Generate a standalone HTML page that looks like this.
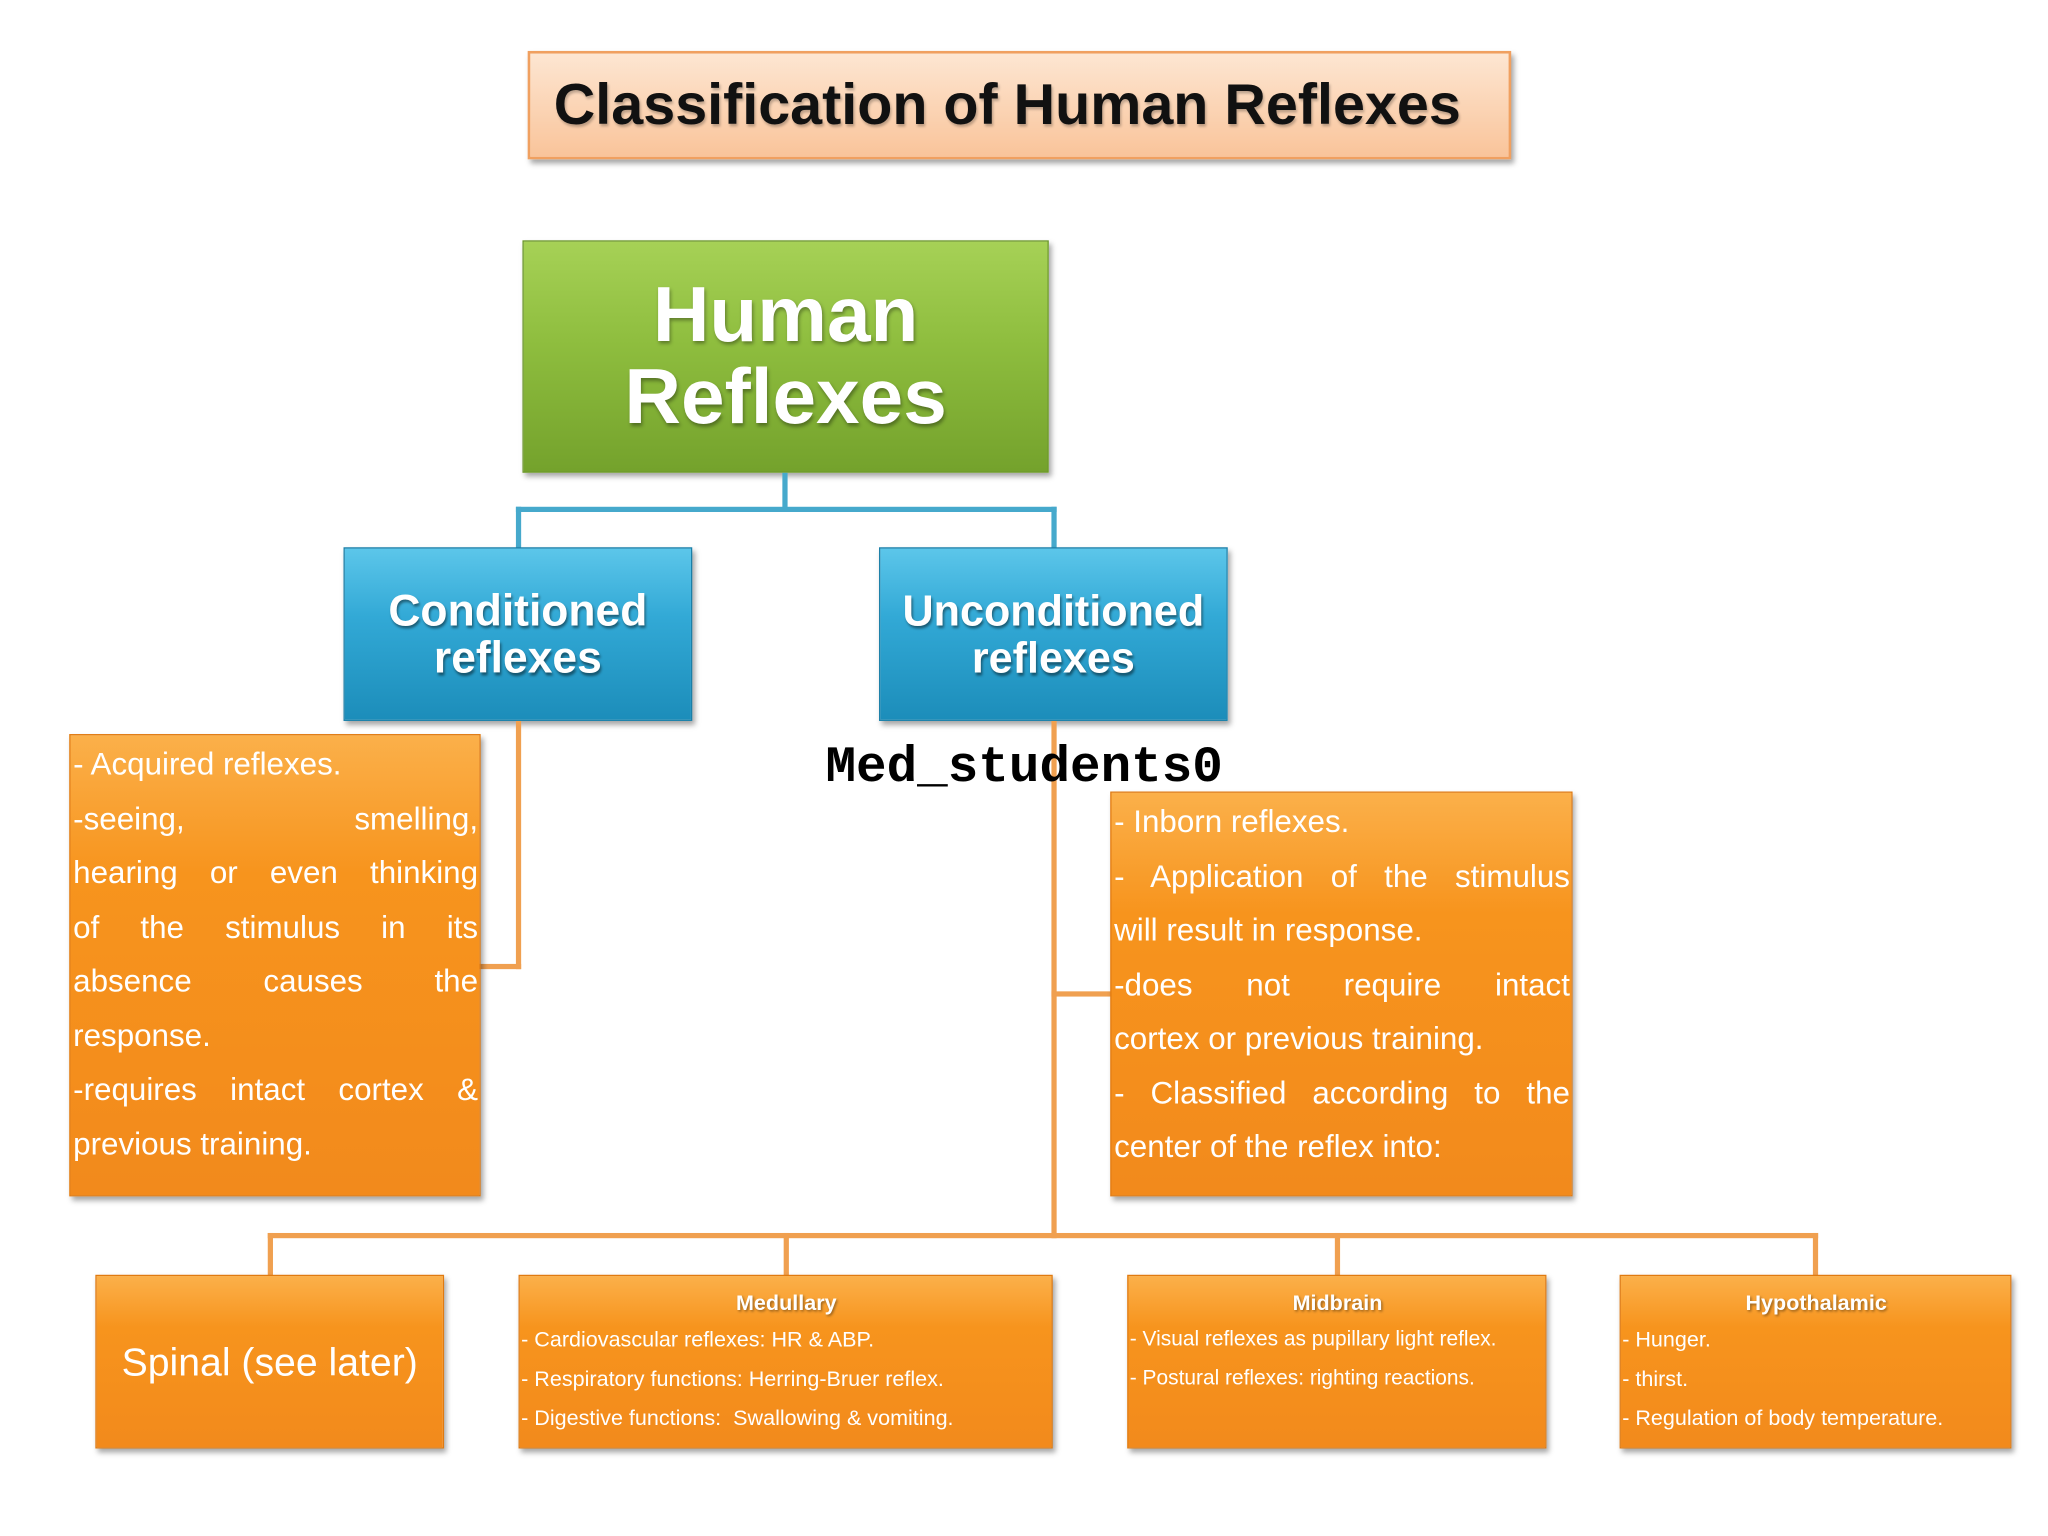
<!DOCTYPE html>
<html><head><meta charset="utf-8"><style>
html,body{margin:0;padding:0;background:#fff;}
body{width:2048px;height:1536px;overflow:hidden;position:relative;}
#s{position:absolute;left:0;top:0;width:1568px;height:1176px;transform:scale(1.30612);transform-origin:0 0;font-family:"Liberation Sans",sans-serif;}
.b{position:absolute;box-sizing:border-box;box-shadow:2px 3px 4px rgba(0,0,0,0.35);}
.or{background:linear-gradient(180deg,#fbb04a 0%,#f7941d 30%,#f28a1c 100%);border:1px solid #e07a10;color:#fff;}
.bl{background:linear-gradient(180deg,#5cc6ea 0%,#32a9d6 40%,#1c8dba 100%);border:1px solid #1a7fa8;color:#fff;font-weight:bold;text-align:center;text-shadow:1px 2px 2px rgba(0,0,0,0.45);}
.l{position:absolute;background:#f0a050;}
.lb{position:absolute;background:#46a9cc;}
.j{text-align:justify;text-align-last:justify;white-space:nowrap;}
.p{font-size:24px;line-height:41.5px;}
.sm{font-size:16.5px;line-height:30px;white-space:nowrap;}
.h{font-weight:bold;text-align:center;font-size:16.5px;line-height:26px;text-shadow:1px 1px 2px rgba(0,0,0,.4);}
</style></head><body><div id="s">

<div class="b" style="left:404px;top:39px;width:753px;height:83px;background:linear-gradient(180deg,#fde6d2,#f9c49a);border:2px solid #f0a060;font-weight:bold;font-size:44px;line-height:80px;padding-left:18px;color:#111;text-shadow:1px 2px 2px rgba(0,0,0,.25);white-space:nowrap;">Classification of Human Reflexes</div>

<div class="b" style="left:400px;top:184px;width:403px;height:178px;background:linear-gradient(180deg,#a6d156 0%,#8ebd3e 45%,#74a22c 100%);border:1px solid #6a9628;color:#fff;font-weight:bold;font-size:60px;line-height:63px;text-align:center;padding-top:24px;text-shadow:1px 2px 3px rgba(0,0,0,.35);">Human<br>Reflexes</div>

<div class="lb" style="left:599px;top:362px;width:4px;height:30px"></div>
<div class="lb" style="left:395px;top:388px;width:414px;height:4px"></div>
<div class="lb" style="left:395px;top:388px;width:4px;height:32px"></div>
<div class="lb" style="left:805px;top:388px;width:4px;height:32px"></div>

<div class="b bl" style="left:263px;top:419px;width:267px;height:133px;font-size:34px;line-height:36px;padding-top:30px;">Conditioned<br>reflexes</div>
<div class="b bl" style="left:673px;top:419px;width:267px;height:133px;font-size:33px;line-height:36px;padding-top:30px;white-space:nowrap;">Unconditioned<br>reflexes</div>

<div class="l" style="left:395px;top:552px;width:4px;height:190px"></div>
<div class="l" style="left:366px;top:738px;width:33px;height:4px"></div>
<div class="l" style="left:805px;top:552px;width:4px;height:396px"></div>
<div class="l" style="left:805px;top:759px;width:47px;height:4px"></div>
<div class="l" style="left:205px;top:944px;width:1187px;height:4px"></div>
<div class="l" style="left:205px;top:944px;width:4px;height:33px"></div>
<div class="l" style="left:600px;top:944px;width:4px;height:33px"></div>
<div class="l" style="left:1022px;top:944px;width:4px;height:33px"></div>
<div class="l" style="left:1388px;top:944px;width:4px;height:33px"></div>

<div class="b or p" style="left:53px;top:562px;width:315px;height:354px;padding:2px 1px 0 2px;">
<div>- Acquired reflexes.</div>
<div class="j">-seeing, smelling,</div>
<div class="j">hearing or even thinking</div>
<div class="j">of the stimulus in its</div>
<div class="j">absence causes the</div>
<div>response.</div>
<div class="j">-requires intact cortex &amp;</div>
<div>previous training.</div>
</div>

<div style="position:absolute;left:632px;top:566px;font-family:'Liberation Mono',monospace;font-weight:bold;font-size:39px;line-height:44px;color:#000;white-space:nowrap;">Med_students0</div>

<div class="b or p" style="left:850px;top:606px;width:354px;height:310px;padding:2px 1px 0 2px;">
<div>- Inborn reflexes.</div>
<div class="j">- Application of the stimulus</div>
<div>will result in response.</div>
<div class="j">-does not require intact</div>
<div>cortex or previous training.</div>
<div class="j">- Classified according to the</div>
<div>center of the reflex into:</div>
</div>

<div class="b or" style="left:73px;top:976px;width:267px;height:133px;font-size:30px;line-height:133px;text-align:center;white-space:nowrap;">Spinal (see later)</div>

<div class="b or" style="left:397px;top:976px;width:409px;height:133px;padding:8px 0 0 1px;">
<div class="h">Medullary</div>
<div class="sm">- Cardiovascular reflexes: HR &amp; ABP.</div>
<div class="sm">- Respiratory functions: Herring-Bruer reflex.</div>
<div class="sm">- Digestive functions:&nbsp; Swallowing &amp; vomiting.</div>
</div>

<div class="b or" style="left:863px;top:976px;width:321px;height:133px;padding:8px 0 0 1px;">
<div class="h">Midbrain</div>
<div class="sm" style="font-size:16px">- Visual reflexes as pupillary light reflex.</div>
<div class="sm" style="font-size:16px">- Postural reflexes: righting reactions.</div>
</div>

<div class="b or" style="left:1240px;top:976px;width:300px;height:133px;padding:8px 0 0 1px;">
<div class="h">Hypothalamic</div>
<div class="sm">- Hunger.</div>
<div class="sm">- thirst.</div>
<div class="sm">- Regulation of body temperature.</div>
</div>

</div></body></html>
